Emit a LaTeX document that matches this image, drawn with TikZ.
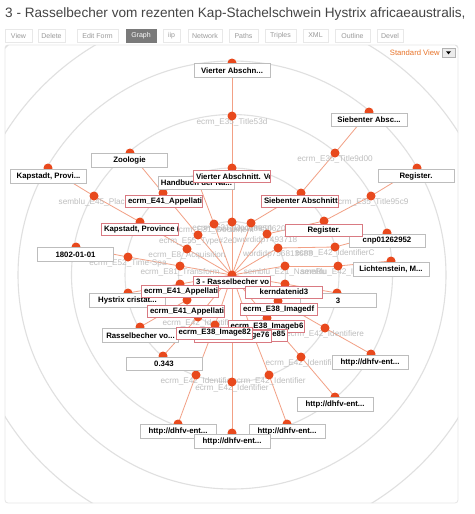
\documentclass[tikz,border=0pt]{standalone}
\usepackage{fontspec}
\setmainfont{Liberation Sans}
\definecolor{ringc}{HTML}{E0E0E0}
\definecolor{edgec}{HTML}{F2A085}
\definecolor{dotc}{HTML}{E8491D}
\definecolor{gboxc}{HTML}{BDBDBD}
\definecolor{rboxc}{HTML}{D97A82}
\definecolor{labc}{HTML}{BEBEBE}
\definecolor{tabc}{HTML}{E8E8E8}
\definecolor{tabtc}{HTML}{9A9A9A}
\definecolor{tabg}{HTML}{7A7A7A}
\definecolor{titlec}{HTML}{444444}
\definecolor{orangec}{HTML}{E8742A}
\definecolor{panelc}{HTML}{E6E6E6}
\newcommand\rbxC[3]{%
  \node[rbox] (#1) at (#2) {};
  \begin{scope}
    \clip (#1.south west) rectangle (#1.north east);
    \node[btext] (#1t) at (#1.center) {#3};
  \end{scope}
  \draw[rboxc, line width=0.8pt] (#1.south west) rectangle (#1.north east);
}
\newcommand\rbxL[3]{%
  \node[rbox] (#1) at (#2) {};
  \begin{scope}
    \clip (#1.south west) rectangle (#1.north east);
    \node[btext, anchor=west] (#1t) at ([xshift=2pt]#1.west) {#3};
  \end{scope}
  \draw[rboxc, line width=0.8pt] (#1.south west) rectangle (#1.north east);
}
\begin{document}
\begin{tikzpicture}[x=1pt,y=-1pt,
  ring/.style={draw=ringc, line width=1.1pt},
  edge/.style={draw=edgec, line width=0.8pt},
  dot/.style={circle, fill=dotc, inner sep=0pt, minimum size=9pt},
  gbox/.style={draw=gboxc, fill=white, line width=0.8pt, minimum width=76pt, minimum height=13.5pt, inner sep=0pt, font=\fontsize{7.8}{9}\selectfont\bfseries, text=black},
  rbox/.style={fill=white, minimum width=76pt, minimum height=11.5pt, inner sep=0pt},
  btext/.style={font=\fontsize{7.8}{9}\selectfont\bfseries, text=black, inner sep=0pt},
  glab/.style={font=\fontsize{8.2}{9}\selectfont, text=labc, inner sep=0pt},
  tab/.style={draw=tabc, fill=white, line width=0.5pt, minimum height=13pt, inner sep=0pt, font=\fontsize{7}{8}\selectfont, text=tabtc},
]
\useasboundingbox (0,0) rectangle (474,514);
\fill[white] (0,0) rectangle (474,514);
% coordinates
\coordinate (c) at (232,275);
\coordinate (p1) at (214,224); \coordinate (p2) at (232,222); \coordinate (p3) at (251,223);
\coordinate (p4) at (198,235); \coordinate (p5) at (267,234); \coordinate (p6) at (187,249);
\coordinate (p7) at (278,248); \coordinate (p8) at (180,266); \coordinate (p9) at (285,266);
\coordinate (p10) at (180,284); \coordinate (p11) at (285,284); \coordinate (p12) at (187,300);
\coordinate (p13) at (198,317); \coordinate (p14) at (267,318); \coordinate (p15) at (215,325);
\coordinate (p16) at (232,331); \coordinate (p17) at (251,329); \coordinate (p18) at (278,301);
\coordinate (qvier) at (232,168); \coordinate (qhand) at (196,176); \coordinate (qe41) at (163,193);
\coordinate (qsieb) at (301,193); \coordinate (qkap) at (140,222); \coordinate (qreg) at (324,221);
\coordinate (qtime) at (128,257); \coordinate (qidc) at (335,247); \coordinate (qname) at (338,266);
\coordinate (qhys) at (128,293); \coordinate (qthree) at (337,293); \coordinate (qrass) at (140,327);
\coordinate (qi29) at (325,328); \coordinate (qnum) at (163,356); \coordinate (qi110) at (196,375);
\coordinate (qi49) at (301,357); \coordinate (qi69) at (269,375); \coordinate (qi90) at (232,382);
\coordinate (rt53) at (232,116); \coordinate (rt9d) at (335,153); \coordinate (rt95) at (371,196);
\coordinate (rzoo) at (130,153); \coordinate (rplace) at (94,196); \coordinate (rdate) at (76,247);
\coordinate (rcnp) at (387,233); \coordinate (rlich) at (391,261); \coordinate (rh1) at (371,354);
\coordinate (rh2) at (335,397); \coordinate (rh3) at (287,424); \coordinate (rh4) at (178,424);
\coordinate (rh5) at (232,433);
\coordinate (svier) at (232,63); \coordinate (ssieb) at (369,112); \coordinate (sreg) at (417,168);
\coordinate (skap) at (48,168);
% title
\node[anchor=base west, inner sep=0pt, font=\fontsize{13.6}{16}\selectfont, text=titlec] (title) at (5,17) {3 - Rasselbecher vom rezenten Kap-Stachelschwein Hystrix africaeaustralis,};
% tabs
\foreach \a/\b/\t [count=\i] in {5/32/View, 38/65/Delete, 77/118/Edit Form, 163/180/iip, 188/222/Network, 229/258/Paths, 265/296/Triples, 303/328/XML, 335/370/Outline, 377/403/Devel}
  \node[tab, minimum width={(\b-\a)*1pt}] (tab\i) at ({(\a+\b)/2},35.5) {\t};
\node[tab, fill=tabg, draw=tabg, text=white, minimum width=30pt] (tabgraph) at (141,35.5) {Graph};
% panel
\draw[panelc, line width=0.8pt, fill=white, rounded corners=3pt] (5,45) rectangle (458,503);
\begin{scope}
  \clip[rounded corners=3pt] (5,45) rectangle (458,503);
  \foreach \r in {53.5,107,160.5,214,267.5,321,374.5} \draw[ring] (c) circle[radius=\r];
\end{scope}
% standard view
\node[anchor=east, font=\fontsize{7.7}{9}\selectfont, text=orangec, inner sep=0pt] (sv) at (440,52.5) {Standard View};
\node[draw=gray!60, fill=gray!15, line width=0.5pt, minimum width=13pt, minimum height=9pt, inner sep=0pt] (dd) at (448.5,52.5) {};
\fill[black] (446,51.3) -- (451,51.3) -- (448.5,54.3) -- cycle;
% edges
\foreach \p in {p1,p2,p3,p4,p5,p6,p7,p8,p9,p10,p11,p12,p13,p14,p15,p16,p17,p18}
  \draw[edge] (c) -- (\p);
\foreach \a/\b in {p1/qhand, p2/qvier, p3/qsieb, p4/qe41, p5/qreg, p6/qkap, p7/qidc, p8/qtime, p9/qname, p10/qhys, p11/qthree, p12/qrass, p13/qnum, p14/qi49, p15/qi110, p16/qi90, p17/qi69, p18/qi29,
  qvier/rt53, qsieb/rt9d, qreg/rt95, qe41/rzoo, qkap/rplace, qtime/rdate, qidc/rcnp, qname/rlich, qi29/rh1, qi49/rh2, qi69/rh3, qi110/rh4, qi90/rh5,
  rt53/svier, rt9d/ssieb, rt95/sreg, rplace/skap}
  \draw[edge] (\a) -- (\b);
% grey labels
\foreach \p/\t in {p1/ecrm\_E31\_Document, p2/ecrm\_E31\_Document, p3/wordidp118950620, p4/ecrm\_E55\_Type\#2e0, p5/wordidp7493718, p6/ecrm\_E8\_Acquisition, p7/wordidp756813688, p8/ecrm\_E81\_Transform, p9/semblu\_E21\_NameRu, p13/ecrm\_E42\_Identifie,
  qtime/ecrm\_E52\_Time-Spa, qidc/ecrm\_E42\_IdentifierC, qname/semblu\_E42\_Identifi, qi29/ecrm\_E42\_Identifiere, qi49/ecrm\_E42\_Identifie, qi69/ecrm\_E42\_Identifier, qi90/ecrm\_E42\_Identifier, qi110/ecrm\_E42\_Identifie,
  rt53/ecrm\_E35\_Title53d, rt9d/ecrm\_E35\_Title9d00, rt95/ecrm\_E35\_Title95c9, rplace/semblu\_E45\_Place}
  \node[glab] (\p-l) at ([yshift=-6.5pt]\p) {\t};
% dots
\foreach \p in {c,p1,p2,p3,p4,p5,p6,p7,p8,p9,p10,p11,p12,p13,p14,p15,p16,p17,p18,qvier,qe41,qsieb,qkap,qreg,qtime,qidc,qname,qhys,qthree,qrass,qi29,qnum,qi110,qi49,qi69,qi90,rt53,rt9d,rt95,rzoo,rplace,rdate,rcnp,rlich,rh1,rh2,rh3,rh4,rh5,svier,ssieb,sreg,skap}
  \node[dot] (\p-d) at (\p) {};
% outer grey boxes
\node[gbox] (bsvier) at (232,70.5) {Vierter Abschn...};
\node[gbox] (bssieb) at (369,120) {Siebenter Absc...};
\node[gbox] (bsreg) at (416,176) {Register.};
\node[gbox] (bskap) at (48.5,176.5) {Kapstadt, Provi...};
\node[gbox] (bzoo) at (129.5,160.5) {Zoologie};
\node[gbox] (bdate) at (75.5,254.5) {1802-01-01};
\node[gbox] (bcnp) at (387,241) {cnp01262952};
\node[gbox] (blich) at (391,269.5) {Lichtenstein, M...};
\node[gbox] (bh1) at (370,362.5) {http://dhfv-ent...};
\node[gbox] (bh2) at (335,404.5) {http://dhfv-ent...};
\node[gbox] (bh3) at (287,431.5) {http://dhfv-ent...};
\node[gbox] (bh4) at (178,431.5) {http://dhfv-ent...};
\node[gbox] (bh5) at (232,441.5) {http://dhfv-ent...};
\node[gbox, minimum height=12.5pt] (bhand) at (196.5,183) {Handbuch der Na...};
\node[gbox] (bthree) at (338,300.5) {3};
\node[gbox] (bhys) at (127.5,300.5) {Hystrix cristat...};
\node[gbox] (brass) at (140.5,335.5) {Rasselbecher vo...};
\node[gbox] (bnum) at (164,364) {0.343};
% red boxes
\rbxL{bvier}{232,176.5}{Vierter Abschnitt. Vo}
\rbxL{be41a}{164,201}{ecrm\_E41\_Appellati}
\rbxL{bsieb}{300,201}{Siebenter Abschnitt.}
\rbxL{bkap}{140,229.5}{Kapstadt, Province (}
\rbxC{breg}{324,230}{Register.}
\rbxL{bcenter}{232,282}{3 - Rasselbecher vo}
\rbxL{be41b}{180,291}{ecrm\_E41\_Appellati}
\rbxC{bkern}{284,292}{kerndatenid3}
\rbxL{be41c}{186,311}{ecrm\_E41\_Appellati}
\rbxL{bimdf}{279,309}{ecrm\_E38\_Imagedf}
\rbxL{bimb6}{266.5,326}{ecrm\_E38\_Imageb6}
\rbxL{bim85}{249,335}{ecrm\_E38\_Image85}
\rbxL{bim76}{233,336}{ecrm\_E38\_Image76}
\rbxL{bim82}{214.5,333}{ecrm\_E38\_Image82}
\end{tikzpicture}
\end{document}
